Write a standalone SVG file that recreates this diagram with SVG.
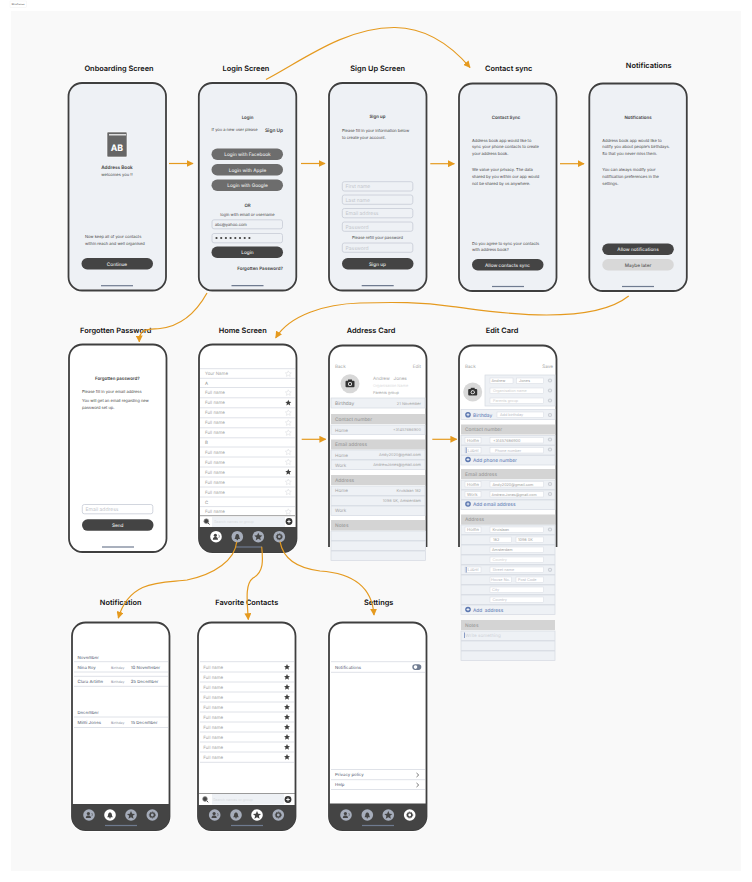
<svg xmlns="http://www.w3.org/2000/svg" width="752" height="882" viewBox="0 0 752 882">
<style>
text{font-family:"Inter","Liberation Sans",sans-serif;fill:#3f3f3f;text-rendering:geometricPrecision}
.ti{font-size:7.4px;font-weight:600;fill:#111;text-anchor:middle}
.hd{font-size:4.4px;font-weight:600;text-anchor:middle}
.b{font-size:4px}
.bc{font-size:4px;text-anchor:middle}
.btn{font-size:4.7px;font-weight:500;fill:#e9e9e9;text-anchor:middle}
.ph{font-size:5px;fill:#c3c6cc}
.phs{font-size:3.8px;fill:#b5b8bf}
.fn{font-size:4.4px;fill:#a8a8a8}
.lbl{font-size:4.8px;font-weight:500;fill:#9a9a9a}
.val{font-size:3.9px;fill:#a3a3a3;text-anchor:end}
.sub{font-size:4.6px;fill:#a3a3a3}
.blue{font-size:4.8px;font-weight:500;fill:#6a84b8}
.ntf{font-size:4.3px;font-weight:500;fill:#6a7183}
.frame{fill:#eef1f5;stroke:#3f3f3f;stroke-width:1.8}
.halo{fill:none;stroke:#fff;stroke-width:3.4}
.dark{fill:#444;stroke:none}
.mid{fill:#6d6d6d}
.inp{fill:#eef1f5;stroke:#c6cbd6;stroke-width:.8}
.inw{fill:#fff;stroke:#c6cbd6;stroke-width:.8}
.ind{stroke:#6f7b90;stroke-width:1.2;fill:none}
.ln{stroke:#dfe2e8;stroke-width:1;fill:none}
.rw{fill:#eef1f5;stroke:#d5d9e1;stroke-width:.7}
.hr{fill:#d4d4d4}
.box{fill:#fff;stroke:#d5d9e1;stroke-width:.5}
.conn{fill:none;stroke:#e59a1f;stroke-width:1.2}
.on{fill:#fff}
.off{fill:#a6adbb}
.g{fill:#444}
</style>
<defs>
<marker id="ah" viewBox="0 0 10 10" refX="9" refY="5" markerWidth="7" markerHeight="7" markerUnits="userSpaceOnUse" orient="auto"><path d="M0 0L10 5L0 10Z" fill="#e59a1f"/></marker>
<path id="star" d="M0-2.9L.9-1L3-.8L1.4.6L1.9,2.7L0,1.6L-1.9,2.7L-1.4.6L-3-.8L-.9-1Z"/>
<g id="s1"><use href="#star" fill="#3f3f3f"/></g>
<g id="s0"><use href="#star" fill="#fff" stroke="#d2d5da" stroke-width=".45"/></g>
<g id="s2"><use href="#star" fill="#444" transform="scale(1.35)"/></g>
<g id="cam"><rect x="-4.5" y="-3" width="9" height="6.5" rx="1" fill="#333"/><rect x="-2" y="-4.2" width="4" height="2" fill="#333"/><circle r="2" cy=".3" fill="#fff"/><circle r="1.2" cy=".3" fill="#333"/></g>
<g id="rm"><circle r="2.1" fill="#c9cdd4"/><circle r="1" fill="#eef1f5"/></g>
<g id="plus"><circle r="2.8" fill="#5b77b0"/><path d="M-1.5 0H1.500M0-1.5V1.500" stroke="#fff" stroke-width=".8"/></g>
<g id="addb"><circle r="3.4" fill="#333"/><path d="M-1.8 0H1.800M0-1.8V1.800" stroke="#fff" stroke-width=".9"/></g>
<g id="srch"><circle r="2.4" cy="-.3" fill="#444" stroke="#999" stroke-width=".7"/><path d="M1.8 1.500L3.200 3" stroke="#333" stroke-width=".9"/></g>
<g id="ipe"><circle cx="-.6" cy="-1.4" r="1.6" class="g"/><path d="M-3.2 3C-3.2.6-1.8.4-.6.4S2 .6 2 3Z" class="g"/><path d="M2.600-2C3.600-1 3.600.3 2.600 1.200" stroke="#444" stroke-width=".6" fill="none"/></g>
<g id="ibe"><path d="M-2.8 2.200C-1.900 1.300-2 -.5-1.700-1.200C-1.300-2.200-.6-2.600 0-2.600S1.300-2.200 1.700-1.200C2 -.5 1.900 1.300 2.800 2.200Z" class="g"/><circle cy="2.800" r=".8" class="g"/></g>
<g id="ige"><circle r="2.100" fill="none" stroke="#444" stroke-width="1.400"/><circle r="3" fill="none" stroke="#444" stroke-width=".9" stroke-dasharray="1 .9"/></g>
<g id="chev"><path d="M-1-2L1.200 0L-1 2" fill="none" stroke="#555" stroke-width=".8"/></g>
</defs>

<rect width="752" height="882" fill="#fff"/>
<rect x="11" y="11" width="730" height="860" fill="#f9f9f9"/>
<rect x="10" y="1" width="16.500" height="6.500" fill="#fff" stroke="#eee" stroke-width=".4"/>
<text x="18" y="5.300" style="font-size:2.400px;text-anchor:middle">Wireframes</text>

<g id="titles">
<text class="ti" x="119" y="71">Onboarding Screen</text>
<text class="ti" x="246" y="71">Login Screen</text>
<text class="ti" x="377.700" y="71">Sign Up Screen</text>
<text class="ti" x="508.700" y="71">Contact sync</text>
<text class="ti" x="648.700" y="68">Notifications</text>
<text class="ti" x="115.700" y="333">Forgotten Password</text>
<text class="ti" x="242.700" y="333">Home Screen</text>
<text class="ti" x="371" y="333">Address Card</text>
<text class="ti" x="502" y="333">Edit Card</text>
<text class="ti" x="120.700" y="605">Notification</text>
<text class="ti" x="246.700" y="605">Favorite Contacts</text>
<text class="ti" x="378.700" y="605">Settings</text>
</g>

<g id="onboarding">
<rect class="halo" x="68.500" y="83" width="97.500" height="207.500" rx="13.500"/>
<rect class="frame" x="68.500" y="83" width="97.500" height="207.500" rx="13.500"/>
<rect x="107" y="132" width="20" height="25" rx="1" fill="#666" stroke="#fff" stroke-width=".6"/>
<rect x="109" y="134" width="17" height="1.500" fill="#ddd"/>
<text x="117" y="151" style="font-size:8.800px;font-weight:700;fill:#fff;text-anchor:middle">AB</text>
<text class="hd" x="117" y="168.500" style="font-size:4.700px">Address Book</text>
<text class="bc" x="117" y="175.800" style="font-size:4.100px">welcomes you !!</text>
<text class="b" x="85" y="238">Now keep all of your contacts</text>
<text class="b" x="85" y="245">within reach and well organised</text>
<rect class="dark" x="81.500" y="258" width="71.500" height="11.500" rx="5.700"/>
<text class="btn" x="117" y="265.500">Continue</text>
<path class="ind" d="M101 285.700H133"/>
</g>

<g id="login">
<rect class="halo" x="198.800" y="83" width="97.500" height="207.500" rx="13.500"/>
<rect class="frame" x="198.800" y="83" width="97.500" height="207.500" rx="13.500"/>
<text class="hd" x="247.500" y="118.500">Login</text>
<text class="b" x="211.500" y="131.300">If you a new user please</text>
<text x="265" y="131.600" style="font-size:4.800px;font-weight:600">Sign Up</text>
<rect class="mid" x="211.500" y="148.500" width="71.500" height="11.500" rx="5.700"/>
<text class="btn" x="247.500" y="156">Login with Facebook</text>
<rect class="mid" x="211.500" y="164" width="71.500" height="11.500" rx="5.700"/>
<text class="btn" x="247.500" y="171.500">Login with Apple</text>
<rect class="mid" x="211.500" y="179.500" width="71.500" height="11.500" rx="5.700"/>
<text class="btn" x="247.500" y="187">Login with Google</text>
<text class="hd" x="247.500" y="206.700">OR</text>
<text class="bc" x="247.500" y="215.500">login with email or username</text>
<rect class="inp" x="212" y="219.800" width="70.500" height="9" rx="2"/>
<text class="b" x="215" y="226">abc@yahoo.com</text>
<rect class="inp" x="212" y="233.500" width="70.500" height="9.300" rx="2"/>
<g fill="#3f3f3f"><circle cx="216.500" cy="238" r="1.100"/><circle cx="221.200" cy="238" r="1.100"/><circle cx="225.900" cy="238" r="1.100"/><circle cx="230.600" cy="238" r="1.100"/><circle cx="235.300" cy="238" r="1.100"/><circle cx="240" cy="238" r="1.100"/><circle cx="244.700" cy="238" r="1.100"/><circle cx="249.400" cy="238" r="1.100"/></g>
<rect class="dark" x="211.500" y="246.500" width="71.500" height="11.500" rx="5.700"/>
<text class="btn" x="247.500" y="254">Login</text>
<text x="283" y="270" style="font-size:4.500px;font-weight:600;text-anchor:end">Forgotten Password?</text>
<path class="ind" d="M231.500 285.700H263.500"/>
</g>

<g id="signup">
<rect class="halo" x="329" y="83" width="97.500" height="207.500" rx="13.500"/>
<rect class="frame" x="329" y="83" width="97.500" height="207.500" rx="13.500"/>
<text class="hd" x="377.500" y="118.300">Sign up</text>
<text class="b" x="342" y="132">Please fill in your information below</text>
<text class="b" x="342" y="138.800">to create your account.</text>
<rect class="inp" x="342.300" y="181.700" width="70.500" height="9.300" rx="2"/>
<text class="ph" x="345.500" y="188.200">First name</text>
<rect class="inp" x="342.300" y="195" width="70.500" height="9.300" rx="2"/>
<text class="ph" x="345.500" y="201.500">Last name</text>
<rect class="inp" x="342.300" y="208.500" width="70.500" height="9.300" rx="2"/>
<text class="ph" x="345.500" y="215">Email address</text>
<rect class="inp" x="342.300" y="222" width="70.500" height="9.300" rx="2"/>
<text class="ph" x="345.500" y="228.500">Password</text>
<text class="bc" x="377.500" y="238.500">Please refill your password</text>
<rect class="inp" x="342.300" y="243" width="70.500" height="9.300" rx="2"/>
<text class="ph" x="345.500" y="249.700">Password</text>
<rect class="dark" x="342" y="258" width="71.500" height="11.500" rx="5.700"/>
<text class="btn" x="377.500" y="265.500">Sign up</text>
<path class="ind" d="M361.700 285.700H393.700"/>
</g>

<g id="contact-sync">
<rect class="halo" x="459" y="83.500" width="97.500" height="207.500" rx="13.500"/>
<rect class="frame" x="459" y="83.500" width="97.500" height="207.500" rx="13.500"/>
<text class="hd" x="506" y="119.300">Contact Sync</text>
<text class="b" x="472" y="141.700">Address book app would like to</text>
<text class="b" x="472" y="148.400">sync your phone contacts to create</text>
<text class="b" x="472" y="155.100">your address book.</text>
<text class="b" x="472" y="171.400">We value your privacy. The data</text>
<text class="b" x="472" y="178.100">shared by you within our app would</text>
<text class="b" x="472" y="184.800">not be shared by us anywhere.</text>
<text class="b" x="472" y="244.700">Do you agree to sync your contacts</text>
<text class="b" x="472" y="251.400">with address book?</text>
<rect class="dark" x="472" y="259" width="71.500" height="11.500" rx="5.700"/>
<text class="btn" x="507.500" y="266.500">Allow contacts sync</text>
<path class="ind" d="M492 286.500H524"/>
</g>

<g id="notifications-permission">
<rect class="halo" x="589.300" y="83.500" width="97.500" height="207.500" rx="13.500"/>
<rect class="frame" x="589.300" y="83.500" width="97.500" height="207.500" rx="13.500"/>
<text class="hd" x="638" y="119.300">Notifications</text>
<text class="b" x="602.300" y="141.700">Address book app would like to</text>
<text class="b" x="602.300" y="148.400">notify you about people’s birthdays.</text>
<text class="b" x="602.300" y="155.100">So that you never miss them.</text>
<text class="b" x="602.300" y="171.400">You can always modify your</text>
<text class="b" x="602.300" y="178.100">notification preferences in the</text>
<text class="b" x="602.300" y="184.800">settings.</text>
<rect class="dark" x="602.300" y="243.500" width="71.500" height="11.500" rx="5.700"/>
<text class="btn" x="638" y="251">Allow notifications</text>
<rect x="602.300" y="259" width="71.500" height="11.500" rx="5.700" fill="#d8d8d8"/>
<text class="btn" x="638" y="266.500" style="fill:#555">Maybe later</text>
<path class="ind" d="M622 286.500H654"/>
</g>

<g id="forgotten-password">
<rect class="halo" x="69" y="344.500" width="97.500" height="207.500" rx="13.500"/>
<rect class="frame" x="69" y="344.500" width="97.500" height="207.500" rx="13.500" style="fill:#fff"/>
<text class="hd" x="117.300" y="379.700">Forgotten password?</text>
<text class="b" x="82" y="393">Please fill in your email address</text>
<text class="b" x="82" y="402">You will get an email regarding new</text>
<text class="b" x="82" y="408.700">password set up.</text>
<rect class="inw" x="82.300" y="504.500" width="70.500" height="9.300" rx="2"/>
<text class="ph" x="85.500" y="511">Email address</text>
<rect class="dark" x="82" y="519.300" width="71.500" height="11.500" rx="5.700"/>
<text class="btn" x="117.700" y="526.800">Send</text>
<path class="ind" d="M102 547H134"/>
</g>

<g id="home">
<rect class="halo" x="199" y="344.500" width="97.500" height="207.500" rx="13.500"/>
<rect class="frame" style="fill:#fff" x="199" y="344.500" width="97.500" height="207.500" rx="13.500"/>
<path class="ln" d="M200 368.700H295M200 378.300H295M200 387.500H295M200 397.800H295M200 407.800H295M200 417.800H295M200 427.800H295M200 437.800H295M200 447H295M200 457H295M200 467H295M200 477H295M200 487H295M200 497H295M200 506.600H295"/>
<text class="fn" x="205" y="375">Your Name</text>
<use href="#s0" x="288.300" y="373.700"/>
<text class="fn" x="205" y="385" style="fill:#888">A</text>
<text class="fn" x="205" y="394.400">Full name</text><use href="#s0" x="288.300" y="392.700"/>
<text class="fn" x="205" y="404.400">Full name</text><use href="#s1" x="288.300" y="402.700"/>
<text class="fn" x="205" y="414.400">Full name</text><use href="#s0" x="288.300" y="412.700"/>
<text class="fn" x="205" y="424.400">Full name</text><use href="#s0" x="288.300" y="422.700"/>
<text class="fn" x="205" y="434.400">Full name</text><use href="#s0" x="288.300" y="432.700"/>
<text class="fn" x="205" y="444" style="fill:#888">B</text>
<text class="fn" x="205" y="453.700">Full name</text><use href="#s0" x="288.300" y="452"/>
<text class="fn" x="205" y="463.700">Full name</text><use href="#s0" x="288.300" y="462"/>
<text class="fn" x="205" y="473.700">Full name</text><use href="#s1" x="288.300" y="472"/>
<text class="fn" x="205" y="483.700">Full name</text><use href="#s0" x="288.300" y="482"/>
<text class="fn" x="205" y="493.700">Full name</text><use href="#s0" x="288.300" y="492"/>
<text class="fn" x="205" y="503.700" style="fill:#888">C</text>
<text class="fn" x="205" y="513.400">Full name</text><use href="#s0" x="288.300" y="511.700"/>
<rect x="200" y="515.500" width="95" height="11.500" fill="#fff"/>
<path d="M200 515.700H295" stroke="#555" stroke-width=".6"/>
<rect x="212" y="516.800" width="73" height="10.200" fill="#eef1f5"/>
<text x="214" y="523" style="font-size:3.600px;fill:#d8dbe0">Search names or group</text>
<use href="#srch" x="206.300" y="521.500"/>
<use href="#addb" x="289" y="521.500"/>
<path class="dark" d="M199 527H296.500V538.500A13.500 13.500 0 0 1 283 552H212.500A13.500 13.500 0 0 1 199 538.500Z"/>
<circle class="on" cx="216" cy="536.700" r="5.800"/><use href="#ipe" x="216" y="536.700"/>
<circle class="off" cx="237.300" cy="536.700" r="5.800"/><use href="#ibe" x="237.300" y="536.700"/>
<circle class="off" cx="258.300" cy="536.700" r="5.800"/><use href="#s2" x="258.300" y="536.700"/>
<circle class="off" cx="279.300" cy="536.700" r="5.800"/><use href="#ige" x="279.300" y="536.700"/>
<path class="ind" d="M235 547H262"/>
</g>

<g id="address-card">
<path d="M329 547V359A13.500 13.500 0 0 1 342.500 345.500H413A13.500 13.500 0 0 1 426.500 359V547Z" fill="#fff"/>
<path d="M329 547V359A13.500 13.500 0 0 1 342.500 345.500H413A13.500 13.500 0 0 1 426.500 359V547" fill="none" stroke="#3f3f3f" stroke-width="1.800"/>
<text class="sub" x="335" y="367.500">Back</text>
<text class="sub" x="421" y="367.500" style="text-anchor:end">Edit</text>
<circle cx="350" cy="383.700" r="9.500" fill="#d8d8d8"/><use href="#cam" x="350" y="383.700"/>
<text class="sub" x="373" y="379.700" xml:space="preserve">Andrew   Jones</text>
<text x="373" y="387" style="font-size:3.900px;fill:#dcdde0">Organisation Name</text>
<text x="373" y="394.200" style="font-size:3.900px;fill:#a3a3a3">Parents group</text>
<rect class="rw" x="331" y="398" width="94" height="10"/>
<text class="lbl" x="335" y="405">Birthday</text><text class="val" x="421" y="404.500">21 November</text>
<rect class="hr" x="331" y="414" width="94" height="10"/>
<text class="lbl" x="335" y="420.800">Contact number</text>
<rect class="rw" x="331" y="425" width="94" height="9.500"/>
<text class="sub" x="335" y="431.500">Home</text><text class="val" x="421" y="431">+31457686900</text>
<rect class="hr" x="331" y="439.500" width="94" height="10"/>
<text class="lbl" x="335" y="446.300">Email address</text>
<rect class="rw" x="331" y="450" width="94" height="9.500"/>
<text class="sub" x="335" y="456.500">Home</text><text class="val" x="421" y="456">Andy2020@gmail.com</text>
<rect class="rw" x="331" y="460" width="94" height="9.500"/>
<text class="sub" x="335" y="466.500">Work</text><text class="val" x="421" y="466">AndrewJones@gmail.com</text>
<rect class="hr" x="331" y="475" width="94" height="10"/>
<text class="lbl" x="335" y="481.800">Address</text>
<rect class="rw" x="331" y="486" width="94" height="9.500"/>
<text class="sub" x="335" y="492">Home</text><text class="val" x="421" y="491.700">Kruislaan 182</text>
<rect class="rw" x="331" y="496" width="94" height="9.500"/>
<text class="val" x="421" y="501.700">1098 SK, Amsterdam</text>
<rect class="rw" x="331" y="506" width="94" height="9.500"/>
<text class="sub" x="335" y="512.200">Work</text>
<rect class="hr" x="331" y="520" width="94" height="10.500"/>
<text class="lbl" x="335" y="527.200">Notes</text>
<rect class="rw" x="331" y="531" width="94.500" height="9.500"/>
<rect class="rw" x="331" y="541" width="94.500" height="9.500"/>
<rect class="rw" x="331" y="551" width="94.500" height="9.500"/>
</g>

<g id="edit-card">
<path d="M459 547V359A13.500 13.500 0 0 1 472.500 345.500H543A13.500 13.500 0 0 1 556.500 359V547Z" fill="#fff"/>
<path d="M459 547V359A13.500 13.500 0 0 1 472.500 345.500H543A13.500 13.500 0 0 1 556.500 359V547" fill="none" stroke="#3f3f3f" stroke-width="1.800"/>
<text class="sub" x="465" y="367.500">Back</text>
<text class="sub" x="553" y="367.500" style="text-anchor:end">Save</text>
<circle cx="472.700" cy="392" r="9.500" fill="#d8d8d8"/><use href="#cam" x="472.700" y="392"/>
<rect class="rw" x="485" y="375" width="70" height="31"/>
<rect class="box" x="490" y="378" width="23" height="5.500"/><text class="phs" x="491.500" y="382.100" style="fill:#999">Andrew</text>
<rect class="box" x="516.500" y="378" width="27" height="5.500"/><text class="phs" x="519" y="382.100" style="fill:#999">Jones</text>
<use href="#rm" x="550" y="380.500"/>
<rect class="box" x="490" y="388" width="53.500" height="5.500"/><text class="phs" x="493" y="392.100" style="fill:#ccc">Organisation name</text>
<use href="#rm" x="550" y="390.500"/>
<rect class="box" x="490" y="398" width="53.500" height="5.500"/><text class="phs" x="493" y="402.100" style="fill:#ccc">Parents group</text>
<use href="#rm" x="550" y="400.500"/>
<rect class="rw" x="461" y="409.500" width="94" height="10"/>
<use href="#plus" x="468" y="414.700"/><text class="blue" x="473" y="416.500">Birthday</text>
<rect class="box" x="497" y="412" width="46.500" height="5.500"/><text class="phs" x="500" y="416.100">Add birthday</text>
<use href="#rm" x="550" y="415"/>
<rect class="hr" x="461" y="424.500" width="94" height="10"/>
<text class="lbl" x="465" y="431.300">Contact number</text>
<rect class="rw" x="461" y="435.500" width="94" height="9.500"/>
<rect class="box" x="465" y="437.500" width="16" height="5.500"/><text class="sub" x="467" y="441.900" style="font-size:4.300px">Home</text>
<rect class="box" x="490" y="437.500" width="53.500" height="5.500"/><text class="phs" x="493" y="441.600" style="fill:#999">+31457686900</text>
<use href="#rm" x="550" y="439.500"/>
<rect class="rw" x="461" y="445.500" width="94" height="9.500"/>
<rect class="box" x="465" y="447.500" width="16" height="5.500"/><path d="M466.200 447.500V453" stroke="#5b77b0" stroke-width=".8"/><text class="phs" x="467.500" y="451.700" style="font-size:4.300px">Label</text>
<rect class="box" x="490" y="447.500" width="53.500" height="5.500"/><text class="phs" x="495" y="451.700">Phone number</text>
<use href="#rm" x="550" y="449.500"/>
<rect class="rw" x="461" y="455.500" width="94" height="9.500"/>
<use href="#plus" x="468" y="459.500"/><text class="blue" x="473" y="461.500">Add phone number</text>
<rect class="hr" x="461" y="469" width="94" height="10"/>
<text class="lbl" x="465" y="475.800">Email address</text>
<rect class="rw" x="461" y="480" width="94" height="9.500"/>
<rect class="box" x="465" y="481.500" width="16" height="5.500"/><text class="sub" x="467" y="485.900" style="font-size:4.300px">Home</text>
<rect class="box" x="490" y="481.500" width="53.500" height="5.500"/><text class="phs" x="492.500" y="485.600" style="fill:#999">Andy2020@gmail.com</text>
<use href="#rm" x="550" y="484"/>
<rect class="rw" x="461" y="490" width="94" height="9.500"/>
<rect class="box" x="465" y="491.500" width="16" height="5.500"/><text class="sub" x="467" y="495.900" style="font-size:4.300px">Work</text>
<rect class="box" x="490" y="491.500" width="53.500" height="5.500"/><text class="phs" x="491.500" y="495.600" style="fill:#999;font-size:3.600px">Andrew.Jones@gmail.com</text>
<use href="#rm" x="550" y="494"/>
<rect class="rw" x="461" y="500" width="94" height="9.500"/>
<use href="#plus" x="468" y="504"/><text class="blue" x="473" y="505.800">Add email address</text>
<rect class="hr" x="461" y="514.500" width="94" height="10.200"/>
<text class="lbl" x="465" y="521.300">Address</text>
<rect class="rw" x="461" y="525" width="94" height="9.500"/>
<rect class="box" x="465" y="527" width="16" height="5.500"/><text class="sub" x="467" y="531.300" style="font-size:4.300px">Home</text>
<rect class="box" x="490" y="527" width="53.500" height="5.500"/><text class="phs" x="492.500" y="531.100" style="fill:#999">Kruislaan</text>
<use href="#rm" x="550" y="529.500"/>
<rect class="rw" x="461" y="535" width="94" height="9.500"/>
<rect class="box" x="490" y="537" width="21.500" height="5.500"/><text class="phs" x="493" y="541.100" style="fill:#999">182</text>
<rect class="box" x="516" y="537" width="27.500" height="5.500"/><text class="phs" x="518" y="541.100" style="fill:#999">1098  SK</text>
<rect class="rw" x="461" y="545" width="94" height="9.500"/>
<rect class="box" x="490" y="547" width="53.500" height="5.500"/><text class="phs" x="492" y="551.100" style="fill:#999">Amsterdam</text>
<rect class="rw" x="461" y="555" width="94" height="9.500"/>
<rect class="box" x="490" y="557" width="53.500" height="5.500"/><text class="phs" x="492.500" y="561.100" style="fill:#ccc">Country</text>
<rect class="rw" x="461" y="565" width="94" height="9.500"/>
<rect class="box" x="465" y="567" width="16" height="5.500"/><path d="M466.200 567V572.500" stroke="#5b77b0" stroke-width=".8"/><text class="phs" x="467.500" y="571.200" style="font-size:4.300px">Label</text>
<rect class="box" x="490" y="567" width="53.500" height="5.500"/><text class="phs" x="492.500" y="571.100">Street name</text>
<use href="#rm" x="550" y="569.800"/>
<rect class="rw" x="461" y="575" width="94" height="9.500"/>
<rect class="box" x="490" y="577" width="21.500" height="5.500"/><text class="phs" x="491" y="581.100">House No.</text>
<rect class="box" x="516" y="577" width="27.500" height="5.500"/><text class="phs" x="518" y="581.100">Post Code</text>
<rect class="rw" x="461" y="585" width="94" height="9.500"/>
<rect class="box" x="490" y="587" width="53.500" height="5.500"/><text class="phs" x="492" y="591.100">City</text>
<rect class="rw" x="461" y="595" width="94" height="9.500"/>
<rect class="box" x="490" y="597" width="53.500" height="5.500"/><text class="phs" x="492.500" y="601.100">Country</text>
<rect class="rw" x="461" y="605" width="94" height="9.500"/>
<use href="#plus" x="468" y="609.500"/><text class="blue" x="473" y="611.500" xml:space="preserve">Add  address</text>
<rect class="hr" x="461" y="620" width="94" height="10"/>
<text class="lbl" x="465" y="626.800">Notes</text>
<rect class="rw" x="461" y="631" width="94" height="9.500"/>
<path d="M464.500 632.500V638" stroke="#5b77b0" stroke-width=".7"/><text x="465.300" y="637.300" style="font-size:4.600px;fill:#cfd2d8">Write something</text>
<rect class="rw" x="461" y="641" width="94" height="9.500"/>
<rect class="rw" x="461" y="651" width="94" height="9.500"/>
</g>

<g id="notification">
<rect class="halo" x="72" y="622.500" width="97.500" height="207.500" rx="13.500"/>
<rect class="frame" style="fill:#fff" x="72" y="622.500" width="97.500" height="207.500" rx="13.500"/>
<path class="ln" d="M74 661.700H168M74 672H168M74 676.300H168M74 686.300H168M74 717H168M74 727.500H168"/>
<text class="ntf" x="77.500" y="658.700">November</text>
<text class="ntf" x="77.500" y="668.700">Nina Roy</text><text x="111" y="668.500" style="font-size:3.400px;fill:#8a90a0">Birthday</text><text class="ntf" x="130.700" y="668.700">10 Novemeber</text>
<text class="ntf" x="77.500" y="683">Clara Artime</text><text x="111" y="683" style="font-size:3.400px;fill:#8a90a0">Birthday</text><text class="ntf" x="130.700" y="683">25 December</text>
<text class="ntf" x="77.500" y="714">December</text>
<text class="ntf" x="77.500" y="724">Mimi Jones</text><text x="111" y="724" style="font-size:3.400px;fill:#8a90a0">Birthday</text><text class="ntf" x="130.700" y="724">15 December</text>
<path class="dark" d="M72 804H169.500V816.500A13.500 13.500 0 0 1 156 830H85.500A13.500 13.500 0 0 1 72 816.500Z"/>
<circle class="off" cx="89" cy="815" r="5.800"/><use href="#ipe" x="89" y="815"/>
<circle class="on" cx="110" cy="815" r="5.800"/><use href="#ibe" x="110" y="815"/>
<circle class="off" cx="131" cy="815" r="5.800"/><use href="#s2" x="131" y="815"/>
<circle class="off" cx="152.300" cy="815" r="5.800"/><use href="#ige" x="152.300" y="815"/>
<path class="ind" d="M105 825.500H137"/>
</g>

<g id="favorite-contacts">
<rect class="halo" x="198" y="622.500" width="97.500" height="207.500" rx="13.500"/>
<rect class="frame" style="fill:#fff" x="198" y="622.500" width="97.500" height="207.500" rx="13.500"/>
<path class="ln" d="M200 661.700H294M200 672H294M200 682H294M200 692H294M200 702H294M200 712H294M200 722H294M200 732H294M200 742H294M200 752H294M200 762.300H294"/>
<text class="fn" x="203.300" y="668.700">Full name</text><use href="#s1" x="287" y="667"/>
<text class="fn" x="203.300" y="678.700">Full name</text><use href="#s1" x="287" y="677"/>
<text class="fn" x="203.300" y="688.700">Full name</text><use href="#s1" x="287" y="687"/>
<text class="fn" x="203.300" y="698.700">Full name</text><use href="#s1" x="287" y="697"/>
<text class="fn" x="203.300" y="708.700">Full name</text><use href="#s1" x="287" y="707"/>
<text class="fn" x="203.300" y="718.700">Full name</text><use href="#s1" x="287" y="717"/>
<text class="fn" x="203.300" y="728.700">Full name</text><use href="#s1" x="287" y="727"/>
<text class="fn" x="203.300" y="738.700">Full name</text><use href="#s1" x="287" y="737"/>
<text class="fn" x="203.300" y="748.700">Full name</text><use href="#s1" x="287" y="747"/>
<text class="fn" x="203.300" y="758.700">Full name</text><use href="#s1" x="287" y="757"/>
<path d="M199 793.500H295" stroke="#555" stroke-width=".6"/>
<rect x="212" y="794" width="72" height="10.500" fill="#eef1f5"/>
<text x="213" y="800.700" style="font-size:3.600px;fill:#d8dbe0">Search names or group</text>
<use href="#srch" x="205" y="799.300"/>
<use href="#addb" x="288" y="799.500"/>
<path class="dark" d="M198 805H295.500V816.500A13.500 13.500 0 0 1 282 830H211.500A13.500 13.500 0 0 1 198 816.500Z"/>
<circle class="off" cx="214.700" cy="815" r="5.800"/><use href="#ipe" x="214.700" y="815"/>
<circle class="off" cx="236" cy="815" r="5.800"/><use href="#ibe" x="236" y="815"/>
<circle class="on" cx="257" cy="815" r="5.800"/><use href="#s2" x="257" y="815"/>
<circle class="off" cx="278.300" cy="815" r="5.800"/><use href="#ige" x="278.300" y="815"/>
<path class="ind" d="M231 825.500H263"/>
</g>

<g id="settings">
<rect class="halo" x="329" y="622.500" width="97.500" height="207.500" rx="13.500"/>
<rect class="frame" style="fill:#fff" x="329" y="622.500" width="97.500" height="207.500" rx="13.500"/>
<path class="ln" d="M331 661.700H425M331 672.300H425M331 769.500H425M331 779.700H425M331 789.500H425"/>
<text class="ntf" x="335" y="668.700">Notifications</text>
<rect x="412.300" y="664.300" width="9" height="5.600" rx="2.800" fill="#6f7b90"/><circle cx="415.500" cy="667.100" r="1.800" fill="#fff"/>
<text class="ntf" x="335" y="776.300">Privacy policy</text><use href="#chev" x="417.500" y="775"/>
<text class="ntf" x="335" y="785.700">Help</text><use href="#chev" x="417.500" y="785"/>
<path class="dark" d="M329 803.500H426.500V816.500A13.500 13.500 0 0 1 413 830H342.500A13.500 13.500 0 0 1 329 816.500Z"/>
<circle class="off" cx="346" cy="815" r="5.800"/><use href="#ipe" x="346" y="815"/>
<circle class="off" cx="367.300" cy="815" r="5.800"/><use href="#ibe" x="367.300" y="815"/>
<circle class="off" cx="388.300" cy="815" r="5.800"/><use href="#s2" x="388.300" y="815"/>
<circle class="on" cx="409.700" cy="815" r="5.800"/><use href="#ige" x="409.700" y="815"/>
<path class="ind" d="M362 825.500H394"/>
</g>

<g id="connectors" marker-end="url(#ah)">
<path class="conn" marker-end="url(#ah)" d="M169 163.500H193"/>
<path class="conn" marker-end="url(#ah)" d="M301 163.500H325"/>
<path class="conn" marker-end="url(#ah)" d="M430.300 163.700H454.300"/>
<path class="conn" marker-end="url(#ah)" d="M560 163.700H584"/>
<path class="conn" marker-end="url(#ah)" d="M301.700 439.300H325.700"/>
<path class="conn" marker-end="url(#ah)" d="M432.300 439.300H456.700"/>
<path class="conn" marker-end="url(#ah)" d="M266 79.500C300 62 345 27 395 27.500C430 28 455 50 470 67.500"/>
<path class="conn" marker-end="url(#ah)" d="M207 293C197 311 182 326 160 328.500C150 329.500 139 327 139.300 341.800"/>
<path class="conn" marker-end="url(#ah)" d="M628.700 296C610 311 580 315 546.700 315C510 315 480 310 453 306.700C420 302 395 302 360 303C325 304 290 315 275.700 337.800"/>
<path class="conn" marker-end="url(#ah)" d="M236.700 541.700C235 560 215 574 187 580C165 583 130 578 118.300 618"/>
<path class="conn" marker-end="url(#ah)" d="M261.700 546.700C263 560 264 572 253 578C245 584 247 600 248.300 619.500"/>
<path class="conn" marker-end="url(#ah)" d="M280 541.700C283 558 295 568 320 571C350 573 372 585 374 615"/>
</g>
</svg>
